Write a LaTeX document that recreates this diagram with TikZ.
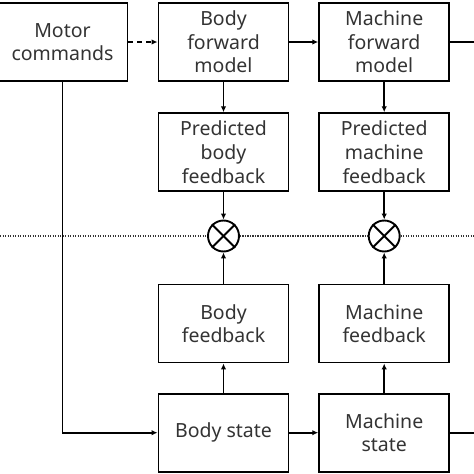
\documentclass[tikz,border=0pt]{standalone}
\usepackage{fontspec}
\setmainfont{Noto Sans}
\usetikzlibrary{arrows.meta}
\begin{document}
\begin{tikzpicture}[x=1pt,y=-1pt,line width=1.9pt]
    \tikzset{boite/.style={draw, rectangle, minimum width=130pt, minimum height=78pt,
        inner sep=1pt, align=center, text=black!80, font=\fontsize{19.5}{23.6}\selectfont}}
    \tikzset{somme/.style={draw, circle, minimum size=31pt, inner sep=0pt}}
    \tikzset{fleche/.style={-{Latex[length=6pt,width=5.5pt]}}}
    \tikzset{pointille/.style={black!80, line width=1.3pt, dash pattern=on 1.2pt off 1.3pt}}
    \useasboundingbox (0,0) rectangle (474,474);
    \node[boite] (MC) at (62.5, 42) {Motor\\commands};
    \node[boite] (BFM) at (223.5, 42) {Body\\forward\\model};
    \node[boite] (MFM) at (384.2, 42) {Machine\\forward\\model};
    \node[boite] (PBF) at (223.5, 152.2) {Predicted\\body\\feedback};
    \node[boite] (PMF) at (384.2, 152.2) {Predicted\\machine\\feedback};
    \node[somme] (S1) at (223.5, 236) {};
    \node[somme] (S2) at (384.2, 236) {};
    \node[boite] (BF) at (223.5, 323.5) {Body\\feedback};
    \node[boite] (MF) at (384.2, 323.5) {Machine\\feedback};
    \node[boite] (BS) at (223.5, 432.7) {Body state};
    \node[boite] (MS) at (384.2, 432.7) {Machine\\state};
    \coordinate (G) at (0, 236);
    \coordinate (D) at (474, 236);
    \coordinate (H) at (474, 42);
    \coordinate (B) at (474, 432.7);
    \draw (S1.north west) -- (S1.south east);
    \draw (S1.north east) -- (S1.south west);
    \draw (S2.north west) -- (S2.south east);
    \draw (S2.north east) -- (S2.south west);
    \draw[pointille] (G) -- (S1.west);
    \draw[pointille] (S1.east) -- (S2.west);
    \draw[pointille] (S2.east) -- (D);
    \draw[fleche, dash pattern=on 5pt off 4pt] (MC) -- (BFM);
    \draw[fleche] (BFM) -- (MFM);
    \draw (MFM) -- (H);
    \draw[fleche] (BFM) -- (PBF);
    \draw[fleche] (MFM) -- (PMF);
    \draw[fleche] (PBF) -- (S1);
    \draw[fleche] (PMF) -- (S2);
    \draw[fleche] (BF) -- (S1);
    \draw[fleche] (MF) -- (S2);
    \draw[fleche] (BS) -- (BF);
    \draw[fleche] (MS) -- (MF);
    \draw[fleche] (MC.south) |- (BS.west);
    \draw[fleche] (BS) -- (MS);
    \draw (MS) -- (B);
  \end{tikzpicture}
\end{document}
